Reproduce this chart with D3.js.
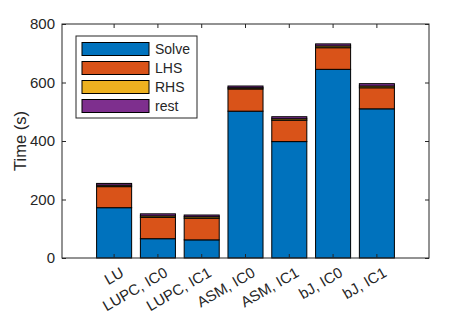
<!DOCTYPE html>
<html>
<head>
<meta charset="utf-8">
<script src="https://cdn.jsdelivr.net/npm/d3@7"></script>
<style>
  body { margin: 0; background: #fff; }
  text { font-family: "Liberation Sans", Arial, sans-serif; fill: #262626; }
</style>
</head>
<body>
<div id="chart"></div>
<script>
// data
var categories = ["LU", "LUPC, IC0", "LUPC, IC1", "ASM, IC0", "ASM, IC1", "bJ, IC0", "bJ, IC1"];
var series = ["Solve", "LHS", "RHS", "rest"];
var solve = [172, 66, 62, 502, 398, 645, 510];
var lhs   = [72, 73, 74, 76, 73, 74, 72];
var rhs   = [5, 5, 5, 4, 5, 6, 6];
var rest  = [6, 7, 6, 6, 7, 7, 8];
var yTicks = [0, 200, 400, 600, 800];
var colors = ["#0072BD", "#D95319", "#EDB120", "#7E2F8E"];

var width = 474, height = 315;
var margin = {left: 62, right: 45, top: 24, bottom: 57};

var svg = d3.select("#chart").append("svg")
    .attr("width", width).attr("height", height);

var x = d3.scaleBand().domain(categories)
    .range([margin.left, width - margin.right])
    .paddingInner(0.2).paddingOuter(0.79);

var y = d3.scaleLinear().domain([0, 800])
    .range([height - margin.bottom, margin.top]);

var table = categories.map(function (c, i) {
    return {cat: c, Solve: solve[i], LHS: lhs[i], RHS: rhs[i], rest: rest[i]};
});
var stacked = d3.stack().keys(series)(table);

svg.append("g").selectAll("g")
    .data(stacked)
    .join("g")
    .attr("fill", function (d, i) { return colors[i]; })
    .selectAll("rect")
    .data(function (d) { return d; })
    .join("rect")
    .attr("x", function (d) { return x(d.data.cat); })
    .attr("width", x.bandwidth())
    .attr("y", function (d) { return y(d[1]); })
    .attr("height", function (d) { return y(d[0]) - y(d[1]); })
    .attr("stroke", "#000")
    .attr("stroke-width", 1);

// box + ticks (matlab style, ticks inside)
var axisColor = "#262626";
var x0 = margin.left, x1 = width - margin.right;
var y0 = height - margin.bottom, y1 = margin.top;

var xb = svg.append("g").attr("transform", "translate(0," + y0 + ")")
    .call(d3.axisBottom(x).tickSizeInner(-4).tickSizeOuter(0).tickFormat(""));
var xt = svg.append("g").attr("transform", "translate(0," + y1 + ")")
    .call(d3.axisTop(x).tickSizeInner(-4).tickSizeOuter(0).tickFormat(""));
var yl = svg.append("g").attr("transform", "translate(" + x0 + ",0)")
    .call(d3.axisLeft(y).tickValues(yTicks).tickSizeInner(-4).tickSizeOuter(0).tickPadding(7));
var yr = svg.append("g").attr("transform", "translate(" + x1 + ",0)")
    .call(d3.axisRight(y).tickValues(yTicks).tickSizeInner(-4).tickSizeOuter(0).tickFormat(""));

[xb, xt, yl, yr].forEach(function (g) {
    g.select(".domain").remove();
    g.selectAll("line").attr("stroke", axisColor);
});
yl.selectAll("text").style("font-size", "15px").attr("fill", axisColor);

svg.append("rect")
    .attr("x", x0).attr("y", y1)
    .attr("width", x1 - x0).attr("height", y0 - y1)
    .attr("fill", "none").attr("stroke", axisColor).attr("stroke-width", 1);

// rotated category labels
svg.append("g").selectAll("text")
    .data(categories)
    .join("text")
    .attr("transform", function (d) {
        return "translate(" + (x(d) + x.bandwidth() / 2 + 4) + "," + (y0 + 6) + ") rotate(-30)";
    })
    .attr("text-anchor", "end")
    .attr("dy", "0.9em")
    .style("font-size", "15px")
    .text(function (d) { return d; });

// y label
svg.append("text")
    .attr("transform", "translate(26," + ((y0 + y1) / 2) + ") rotate(-90)")
    .attr("text-anchor", "middle")
    .style("font-size", "16.5px")
    .text("Time (s)");

// legend
var legend = svg.append("g");
legend.append("rect")
    .attr("x", 76).attr("y", 36).attr("width", 121).attr("height", 82)
    .attr("fill", "#fff").attr("stroke", axisColor).attr("stroke-width", 1);

var item = legend.selectAll("g.item")
    .data(series)
    .join("g")
    .attr("class", "item")
    .attr("transform", function (d, i) { return "translate(82," + (42.5 + i * 19) + ")"; });

item.append("rect")
    .attr("width", 67).attr("height", 13)
    .attr("fill", function (d, i) { return colors[i]; })
    .attr("stroke", "#000").attr("stroke-width", 1);

item.append("text")
    .attr("x", 73).attr("y", 6.5).attr("dy", "0.35em")
    .style("font-size", "14px")
    .text(function (d) { return d; });
</script>
</body>
</html>
